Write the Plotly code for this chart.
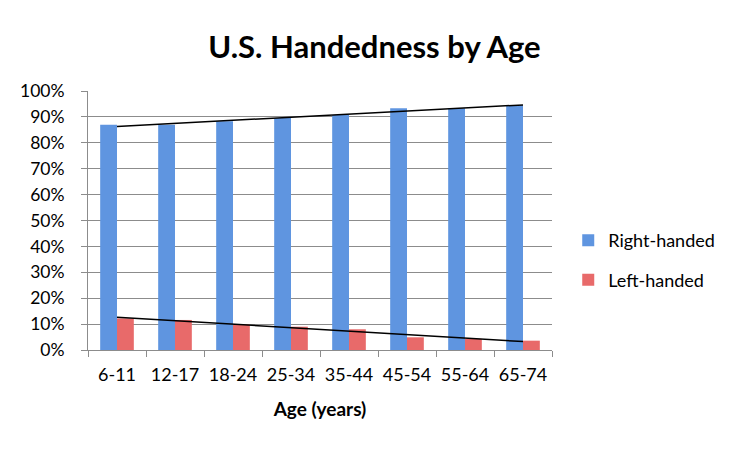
import numpy as np
import plotly.graph_objects as go

age_groups = ["6-11", "12-17", "18-24", "25-34", "35-44", "45-54", "55-64", "65-74"]
right_handed = [87.0, 87.0, 88.3, 89.6, 90.7, 93.3, 93.3, 94.5]
left_handed = [12.2, 11.6, 9.9, 9.0, 8.0, 4.9, 4.3, 3.6]

rh = np.array(right_handed) / 100
lh = np.array(left_handed) / 100
idx = np.arange(len(age_groups))
rh_fit = np.polyval(np.polyfit(idx, rh, 1), idx)
lh_fit = np.polyval(np.polyfit(idx, lh, 1), idx)

font_family = "Lato, 'Open Sans', sans-serif"

fig = go.Figure()
fig.add_trace(go.Bar(x=age_groups, y=rh, name="Right-handed", legendgroup="r",
                     marker=dict(color="#5f95e0", line=dict(width=0))))
fig.add_trace(go.Bar(x=age_groups, y=lh, name="Left-handed", legendgroup="l",
                     marker=dict(color="#e86a6a", line=dict(width=0))))
fig.add_trace(go.Scatter(x=age_groups, y=rh_fit, mode="lines", showlegend=False,
                         line=dict(color="black", width=1.5), hoverinfo="skip"))
fig.add_trace(go.Scatter(x=age_groups, y=lh_fit, mode="lines", showlegend=False,
                         line=dict(color="black", width=1.5), hoverinfo="skip"))

fig.update_layout(
    width=751, height=451,
    margin=dict(l=72, r=207, t=83, b=109),
    paper_bgcolor="white", plot_bgcolor="white",
    font=dict(family=font_family, size=18, color="black"),
    title=dict(text="<b>U.S. Handedness by Age</b>", x=0.488, xanchor="center",
               y=0.9135, yanchor="middle", font=dict(size=31, family=font_family)),
    barmode="group", bargap=0.42, bargroupgap=0,
    legend=dict(x=1.035, y=0.347, xanchor="left", yanchor="middle",
                font=dict(size=18), tracegroupgap=13, itemsizing="constant",
                itemwidth=30, traceorder="grouped"),
    xaxis=dict(showline=True, linecolor="#8c8c8c", linewidth=1,
               ticks="outside", tickson="boundaries", ticklen=6, tickcolor="#8c8c8c",
               tickfont=dict(size=18), ticklabelstandoff=8,
               title=dict(text="<b>Age (years)</b>", font=dict(size=19), standoff=19)),
    yaxis=dict(range=[0, 1], dtick=0.1, tickformat=".0%",
               showline=True, linecolor="#8c8c8c", linewidth=1,
               showgrid=True, gridcolor="#8c8c8c", gridwidth=1,
               ticks="outside", ticklen=6, tickcolor="#8c8c8c",
               tickfont=dict(size=17.5), ticklabelstandoff=13, zeroline=False),
)

fig.write_html("out.html")
